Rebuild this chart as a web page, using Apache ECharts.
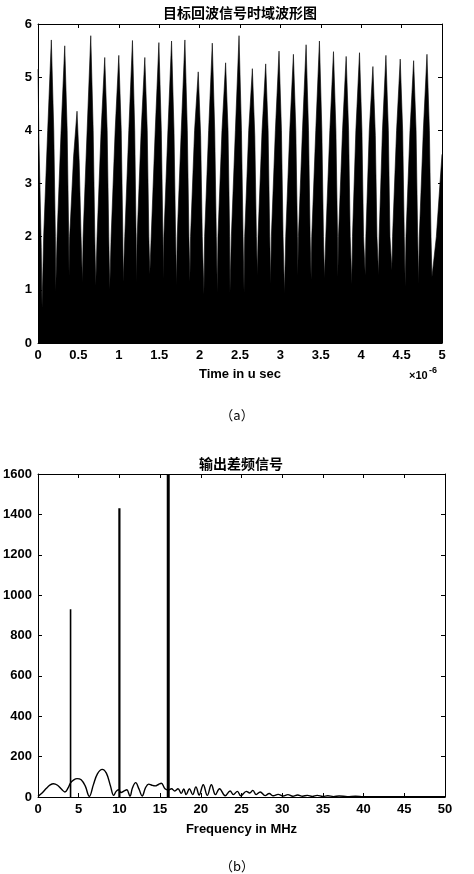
<!DOCTYPE html>
<html>
<head>
<meta charset="utf-8">
<script src="https://cdn.jsdelivr.net/npm/echarts@6/dist/echarts.min.js"></script>
<style>
html,body{margin:0;padding:0;background:#fff;}
#c{width:474px;height:874px;}
</style>
</head>
<body>
<div id="c"></div>
<script>
// ---------- Chart (a): envelope of the echo signal (time in 1e-6 s) ----------
const envT = [
  0.000, 0.012, 0.040, 0.050,
  0.070, 0.120, 0.165, 0.195, 0.215, 0.219,
  0.236, 0.286, 0.331, 0.361, 0.380, 0.384,
  0.392, 0.440, 0.483, 0.510, 0.533, 0.550,
  0.558, 0.608, 0.653, 0.683, 0.703, 0.715,
  0.731, 0.781, 0.826, 0.856, 0.876, 0.888,
  0.905, 0.955, 1.000, 1.030, 1.050, 1.054,
  1.074, 1.124, 1.169, 1.197, 1.214, 1.219,
  1.227, 1.277, 1.322, 1.352, 1.372, 1.384,
  1.401, 1.451, 1.496, 1.526, 1.546, 1.550,
  1.558, 1.608, 1.653, 1.683, 1.703, 1.715,
  1.723, 1.773, 1.818, 1.848, 1.868, 1.880,
  1.888, 1.938, 1.983, 2.013, 2.033, 2.054,
  2.062, 2.112, 2.157, 2.187, 2.207, 2.219,
  2.227, 2.277, 2.322, 2.352, 2.372, 2.376,
  2.393, 2.443, 2.488, 2.518, 2.538, 2.550,
  2.558, 2.608, 2.653, 2.683, 2.703, 2.715,
  2.723, 2.773, 2.818, 2.848, 2.868, 2.880,
  2.888, 2.938, 2.983, 3.013, 3.033, 3.050,
  3.066, 3.116, 3.161, 3.191, 3.211, 3.215,
  3.223, 3.273, 3.318, 3.348, 3.368, 3.380,
  3.388, 3.438, 3.483, 3.513, 3.533, 3.545,
  3.562, 3.612, 3.657, 3.687, 3.707, 3.711,
  3.719, 3.769, 3.814, 3.844, 3.864, 3.884,
  3.892, 3.934, 3.979, 4.009, 4.029, 4.050,
  4.058, 4.100, 4.145, 4.175, 4.195, 4.215,
  4.222, 4.263, 4.306, 4.336, 4.356, 4.380,
  4.388, 4.438, 4.483, 4.513, 4.533, 4.545,
  4.554, 4.604, 4.649, 4.679, 4.699, 4.711,
  4.719, 4.769, 4.814, 4.844, 4.864, 4.876,
  4.930, 4.975, 5.000
];
const envV = [
  5.15, 3.80, 1.80, 0.66,
  2.0, 4.0, 5.70, 4.0, 2.0, 0.98,
  2.0, 4.0, 5.59, 4.0, 2.0, 1.27,
  2.0, 3.5, 4.36, 3.4, 2.0, 1.14,
  2.0, 4.0, 5.78, 4.0, 2.0, 1.08,
  2.0, 4.0, 5.37, 4.0, 2.0, 1.01,
  2.0, 4.0, 5.41, 4.0, 2.0, 1.15,
  2.0, 4.0, 5.69, 4.0, 2.0, 1.14,
  2.0, 4.0, 5.37, 4.0, 2.0, 1.30,
  2.0, 4.0, 5.65, 4.0, 2.0, 1.21,
  2.0, 4.0, 5.68, 4.0, 2.0, 1.08,
  2.0, 4.0, 5.70, 4.0, 2.0, 1.15,
  2.0, 4.0, 5.10, 3.9, 2.0, 0.92,
  2.0, 4.0, 5.64, 4.0, 2.0, 0.95,
  2.0, 4.0, 5.27, 4.0, 2.0, 0.96,
  2.0, 4.0, 5.78, 4.0, 2.0, 0.94,
  2.0, 4.0, 5.16, 3.9, 2.0, 1.27,
  2.0, 4.0, 5.25, 4.0, 2.0, 1.11,
  2.0, 4.0, 5.49, 4.0, 2.0, 0.94,
  2.0, 4.0, 5.43, 4.0, 2.0, 1.27,
  2.0, 4.0, 5.61, 4.0, 2.0, 1.19,
  2.0, 4.0, 5.68, 4.0, 2.0, 1.22,
  2.0, 4.0, 5.48, 4.0, 2.0, 1.24,
  2.0, 4.0, 5.39, 4.0, 2.0, 1.11,
  2.0, 4.0, 5.46, 4.0, 2.0, 1.27,
  2.0, 4.0, 5.20, 3.9, 2.0, 1.27,
  2.0, 4.0, 5.41, 4.0, 2.0, 1.37,
  2.0, 4.0, 5.34, 4.0, 2.0, 1.06,
  2.0, 4.0, 5.31, 4.0, 2.0, 1.11,
  2.0, 4.0, 5.43, 4.0, 2.0, 1.24,
  2.0, 3.0, 3.55
];
const xTicksA = [0, 0.5, 1, 1.5, 2, 2.5, 3, 3.5, 4, 4.5, 5];
const yTicksA = [0, 1, 2, 3, 4, 5, 6];

// ---------- Chart (b): beat-frequency spectrum (MHz) ----------
const specF = [0, 0.5, 1.0, 1.5, 1.9, 2.4, 2.9, 3.3, 3.7, 4.0, 4.4, 4.8, 5.3, 5.8, 6.3,
  6.8, 7.3, 7.9, 8.4, 8.9, 9.3, 9.6, 9.9, 10.2, 10.6, 10.9, 11.3, 11.6, 12.0, 12.4, 12.8,
  13.2, 13.6, 14.0, 14.4, 14.8, 15.15, 15.6, 16.0, 16.4, 16.8, 17.2, 17.6, 17.9, 18.2,
  18.6, 19.0, 19.4, 19.8, 20.3, 20.8, 21.3, 21.8, 22.3, 23.0, 23.6, 24.0, 24.5, 24.9,
  25.6, 26.0, 26.4, 26.8, 27.3, 27.9, 28.4, 28.9, 29.5, 30.1, 30.7, 31.3, 31.9, 32.5,
  33.1, 33.7, 34.3, 35.0, 35.6, 36.3, 37.0, 38.0, 39.0, 40.0, 42.0, 45.0, 48.0, 50.0];
const specA = [3, 20, 42, 60, 66, 58, 38, 25, 45, 70, 85, 91, 85, 55, 3,
  60, 115, 137, 118, 55, 8, 28, 36, 22, 30, 36, 4, 45, 71, 40, 5,
  45, 64, 58, 55, 62, 68, 41, 35, 41, 30, 41, 18, 40, 12,
  41, 12, 50, 10, 61, 8, 61, 12, 41, 6, 30, 12, 28, 6,
  28, 20, 33, 12, 25, 7, 17, 6, 13, 5, 12, 4, 10, 4,
  8, 3, 8, 3, 6, 2, 5, 2, 4, 2, 2, 1, 1, 1];
const peakF = [4.0, 10.0, 16.0];
const peakA = [930, 1430, 1600];
const xTicksB = [0, 5, 10, 15, 20, 25, 30, 35, 40, 45, 50];
const yTicksB = [0, 200, 400, 600, 800, 1000, 1200, 1400, 1600];

const titleA = '目标回波信号时域波形图';
const titleB = '输出差频信号';
const xNameA = 'Time in u sec';
const xNameB = 'Frequency in MHz';

const FONT = '"Liberation Sans", Arial, sans-serif';
const CJK = '"Noto Sans CJK SC", sans-serif';
const labelStyle = {color: '#000', fontSize: 13, fontWeight: 'bold', fontFamily: FONT};
const spikeWidths = [1.6, 2.2, 3];

function valueAxis(grid, pos, ticks, showLabel, extra) {
  const step = ticks[1] - ticks[0];
  return Object.assign({
    type: 'value', gridIndex: grid, position: pos,
    min: ticks[0], max: ticks[ticks.length - 1], interval: step,
    axisLine: {show: true, onZero: false, lineStyle: {color: '#000', width: 1}},
    axisTick: {show: true, inside: true, length: 4, lineStyle: {color: '#000', width: 1}},
    axisLabel: showLabel ? Object.assign({margin: 6, formatter: v => String(v)}, labelStyle) : {show: false},
    splitLine: {show: false}
  }, extra || {});
}

const series = [
  {
    type: 'line', xAxisIndex: 0, yAxisIndex: 0, symbol: 'none',
    data: envT.map((t, i) => [t, envV[i]]),
    lineStyle: {color: '#000', width: 0.6},
    areaStyle: {color: '#000', opacity: 1, origin: 'start'},
    z: 1
  },
  {
    type: 'line', xAxisIndex: 2, yAxisIndex: 2, symbol: 'none', smooth: 0.4,
    data: specF.map((f, i) => [f, specA[i]]),
    lineStyle: {color: '#000', width: 1.4},
    z: 2
  }
];
peakF.forEach((f, i) => {
  series.push({
    type: 'line', xAxisIndex: 2, yAxisIndex: 2, symbol: 'none',
    data: [[f, 0], [f, peakA[i]]],
    lineStyle: {color: '#000', width: spikeWidths[i], cap: 'butt'},
    z: 3
  });
});

const chart = echarts.init(document.getElementById('c'), null, {renderer: 'canvas'});
chart.setOption({
  backgroundColor: '#fff',
  animation: false,
  grid: [
    {left: 38, right: 32, top: 24, height: 319},
    {left: 38, right: 29, top: 474, height: 323}
  ],
  xAxis: [
    valueAxis(0, 'bottom', xTicksA, true, {name: xNameA, nameLocation: 'middle', nameGap: 25,
      nameTextStyle: {color: '#000', fontSize: 13, fontWeight: 'bold', fontFamily: FONT}}),
    valueAxis(0, 'top', xTicksA, false),
    valueAxis(1, 'bottom', xTicksB, true, {name: xNameB, nameLocation: 'middle', nameGap: 26,
      nameTextStyle: {color: '#000', fontSize: 13, fontWeight: 'bold', fontFamily: FONT}}),
    valueAxis(1, 'top', xTicksB, false)
  ],
  yAxis: [
    valueAxis(0, 'left', yTicksA, true),
    valueAxis(0, 'right', yTicksA, false),
    valueAxis(1, 'left', yTicksB, true),
    valueAxis(1, 'right', yTicksB, false)
  ],
  series: series,
  graphic: [
    {type: 'text', x: 240, y: 13, style: {text: titleA, textAlign: 'center', textVerticalAlign: 'middle',
      font: 'bold 14px ' + CJK, fill: '#000'}},
    {type: 'text', x: 409, y: 376, style: {text: '×10', textAlign: 'left', textVerticalAlign: 'middle',
      font: 'bold 11px ' + FONT, fill: '#000'}},
    {type: 'text', x: 429, y: 371, style: {text: '-6', textAlign: 'left', textVerticalAlign: 'middle',
      font: 'bold 9px ' + FONT, fill: '#000'}},
    {type: 'text', x: 237, y: 415, style: {text: '（a）', textAlign: 'center', textVerticalAlign: 'middle',
      font: '13px ' + CJK, fill: '#000'}},
    {type: 'text', x: 241, y: 464, style: {text: titleB, textAlign: 'center', textVerticalAlign: 'middle',
      font: 'bold 14px ' + CJK, fill: '#000'}},
    {type: 'text', x: 237, y: 866, style: {text: '（b）', textAlign: 'center', textVerticalAlign: 'middle',
      font: '13px ' + CJK, fill: '#000'}}
  ]
});
</script>
</body>
</html>
